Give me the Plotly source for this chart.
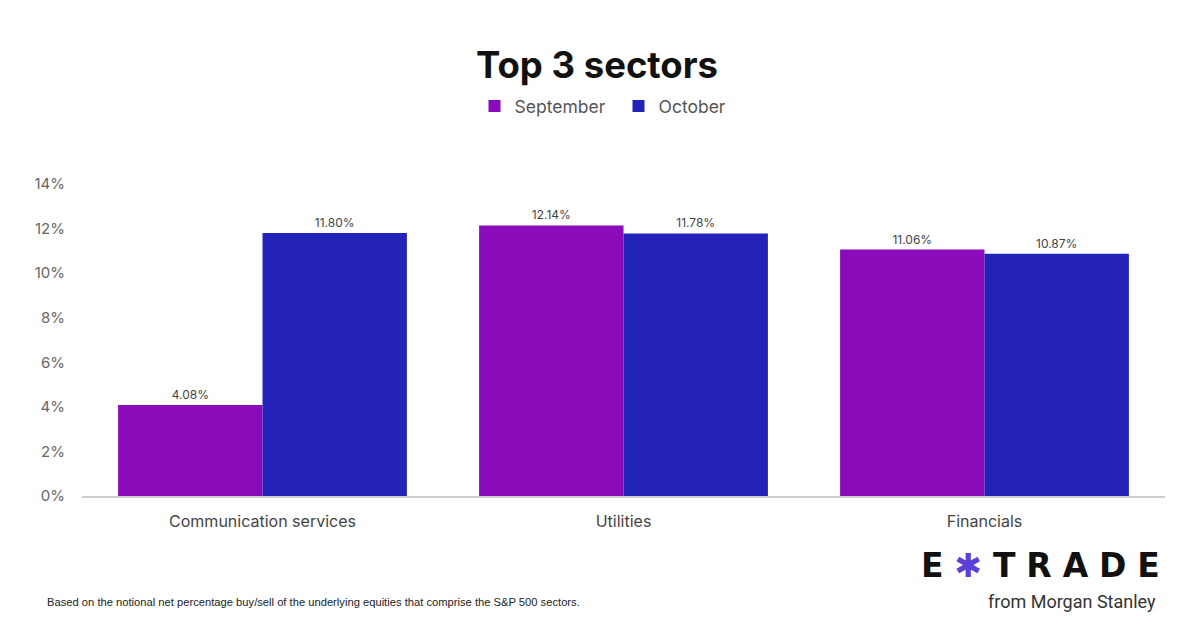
import plotly.graph_objects as go

categories = ["Communication services", "Utilities", "Financials"]
september = [4.08, 12.14, 11.06]
october = [11.80, 11.78, 10.87]
y_ticks = [0, 2, 4, 6, 8, 10, 12, 14]
y_tick_labels = ["0%", "2%", "4%", "6%", "8%", "10%", "12%", "14%"]

PURPLE = "#8A0BBA"
BLUE = "#2323B9"
FONT = "Inter, Roboto, sans-serif"

fig = go.Figure()
fig.add_trace(go.Bar(
    name="September", x=categories, y=september, marker_color=PURPLE, marker_line_width=0,
    text=[f"{v:.2f}%" for v in september], textposition="outside",
    textfont=dict(size=12, color="#444444", family=FONT), cliponaxis=False,
))
fig.add_trace(go.Bar(
    name="October", x=categories, y=october, marker_color=BLUE, marker_line_width=0,
    text=[f"{v:.2f}%" for v in october], textposition="outside",
    textfont=dict(size=12, color="#444444", family=FONT), cliponaxis=False,
))

fig.update_layout(
    width=1200, height=628,
    paper_bgcolor="white", plot_bgcolor="white",
    margin=dict(l=74, r=43, t=176, b=140, autoexpand=False),
    barmode="group", bargap=0.2, bargroupgap=0,
    font=dict(family=FONT, color="#555555"),
    title=dict(text="<b>Top 3 sectors</b>", x=(597 - 8) / 1200, xanchor="center",
               yref="container", y=1 - 57 / 628, yanchor="middle", automargin=False,
               font=dict(size=36.5, color="#111111", family=FONT)),
    legend=dict(orientation="h", x=0.5 - 5 / 1083, xanchor="center", yref="paper",
                y=(496 - 106) / 312, yanchor="middle",
                font=dict(size=17.5, color="#555555"),
                entrywidth=99, entrywidthmode="pixels", traceorder="normal"),
    showlegend=True,
)

fig.update_xaxes(showgrid=False, showline=True, linecolor="#cccccc", linewidth=1.5,
                 tickfont=dict(size=16, color="#444444"), ticks="", ticklabelstandoff=10,
                 automargin=False)
fig.update_yaxes(range=[0, 14], tickvals=y_ticks, ticktext=y_tick_labels, showgrid=False,
                 zeroline=False, showline=False, tickfont=dict(size=15, color="#666666"),
                 ticklabelstandoff=16, automargin=False)

fig.add_annotation(
    text="Based on the notional net percentage buy/sell of the underlying equities that comprise the S&amp;P 500 sectors.",
    xref="paper", yref="paper", x=(45 - 82) / 1083, y=(496 - 602) / 312,
    xanchor="left", yanchor="middle",
    showarrow=False, font=dict(size=11.2, color="#222222", family="Liberation Sans Narrow, Arial Narrow, sans-serif"),
)
fig.add_annotation(
    text="<b>E\u2004<span style='color:#5b3fd6'>✱</span>\u2004T\u2004R\u2004A\u2004D\u2004E</b>",
    xref="paper", yref="paper", x=(1162 - 82) / 1083, y=(496 - 565) / 312,
    xanchor="right", yanchor="middle",
    showarrow=False, font=dict(size=33, color="#111111", family="DejaVu Sans, sans-serif"),
)
fig.add_annotation(
    text="from Morgan Stanley",
    xref="paper", yref="paper", x=(1158 - 82) / 1083, y=(496 - 601) / 312,
    xanchor="right", yanchor="middle",
    showarrow=False, font=dict(size=18, color="#333333", family="Roboto, sans-serif"),
)

fig.write_html("out.html")
